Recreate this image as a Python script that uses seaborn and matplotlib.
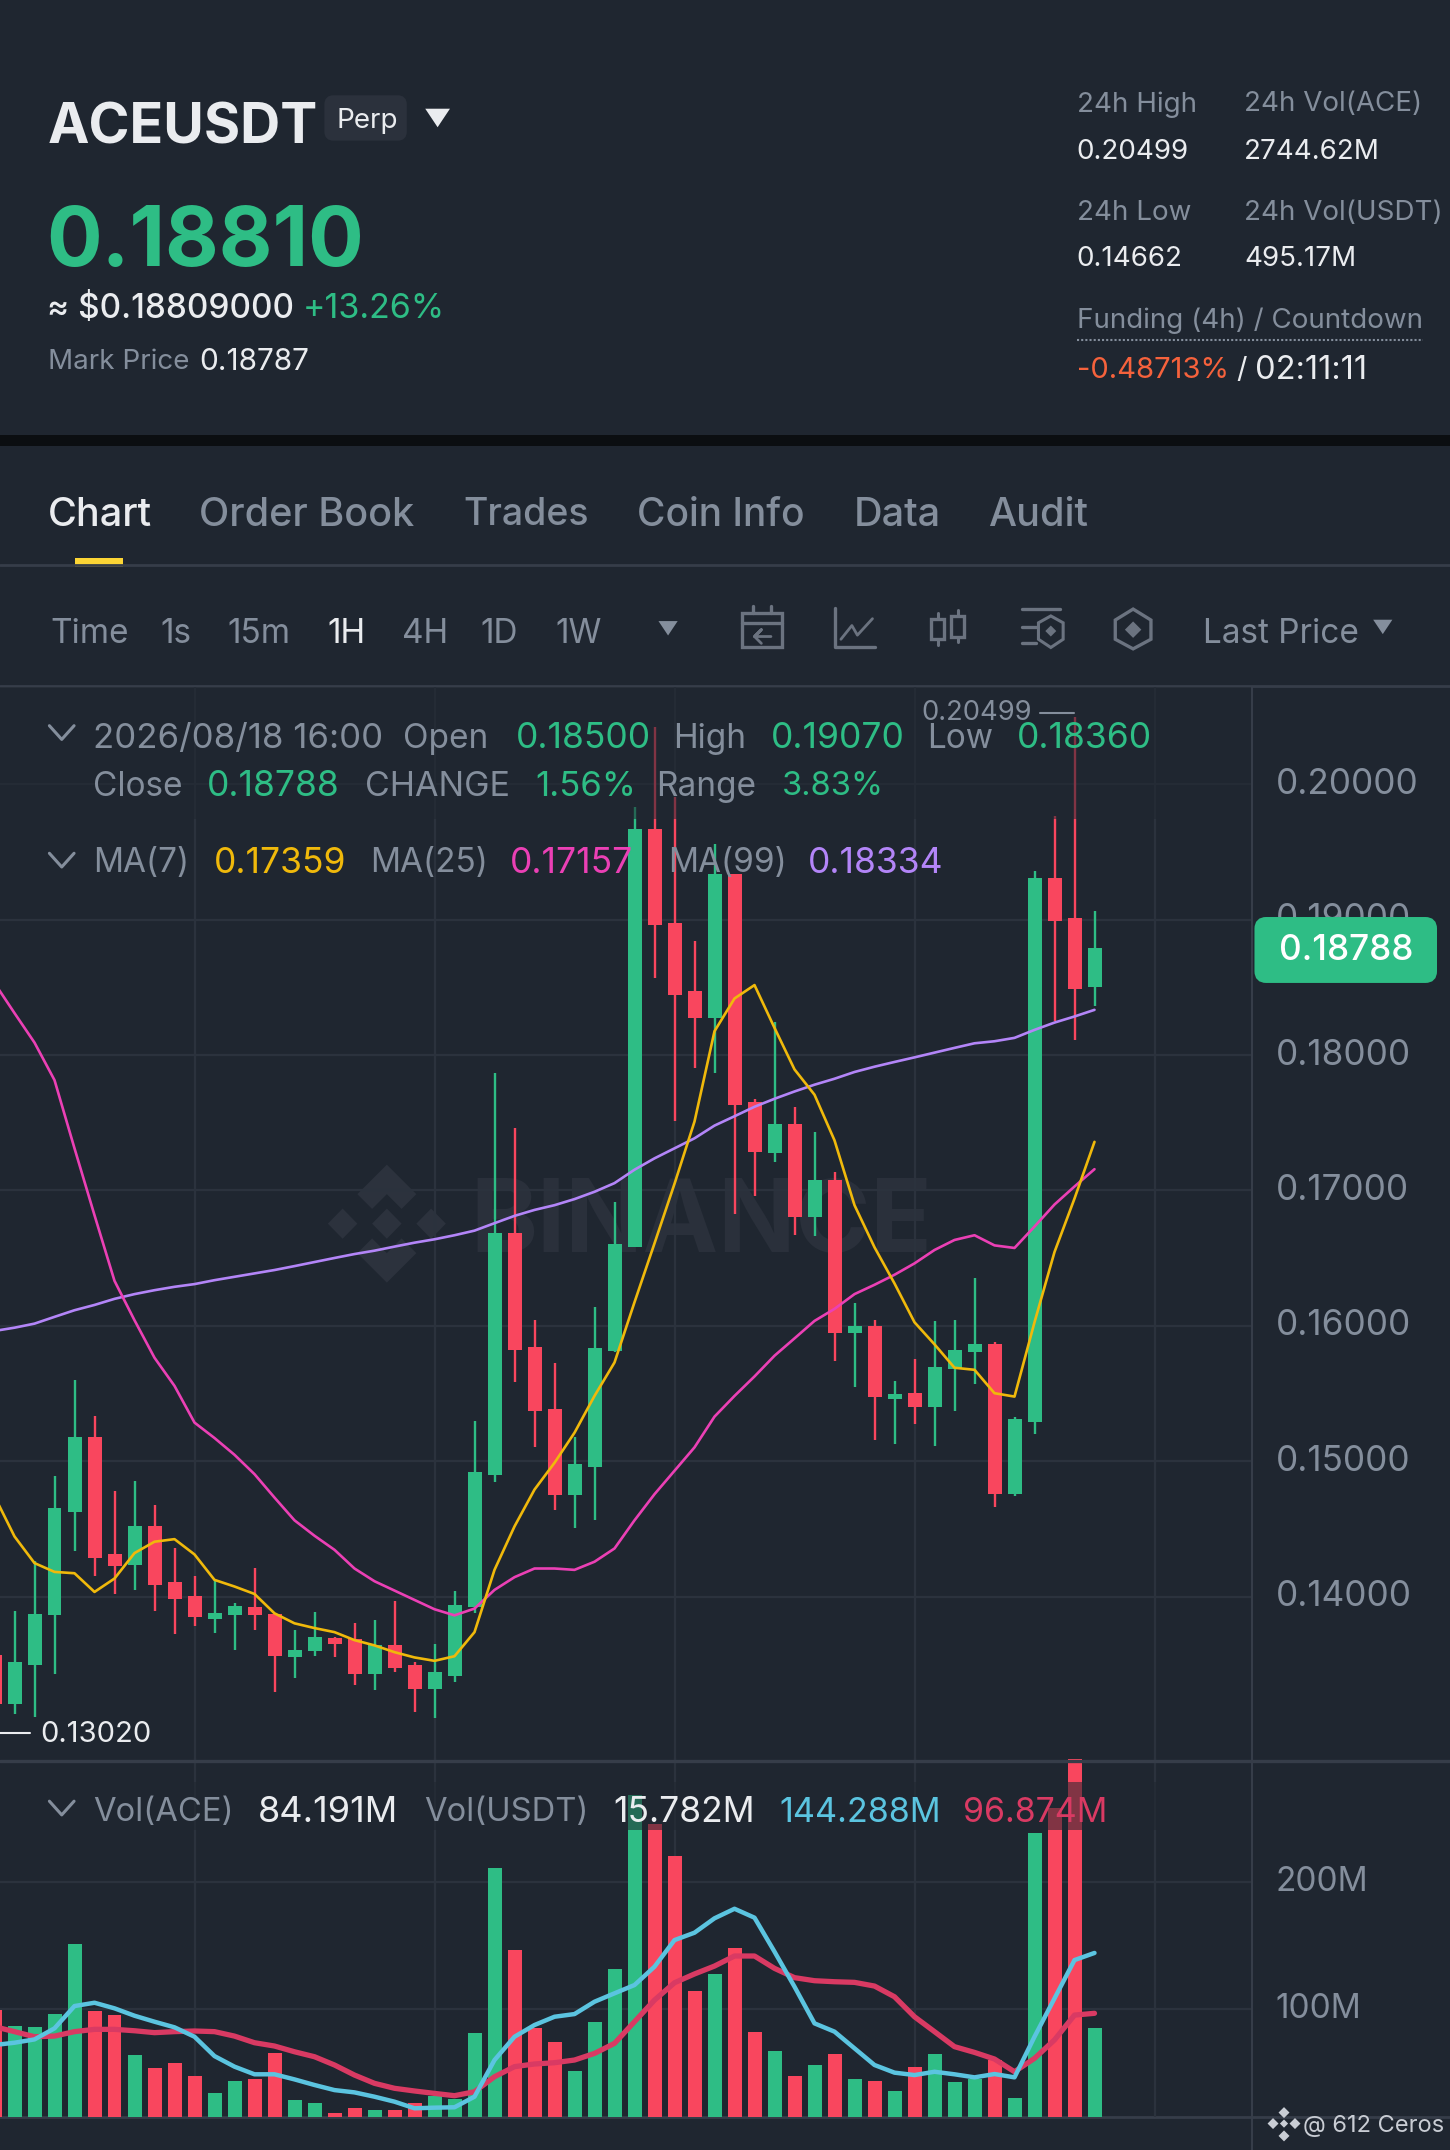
import numpy as np
import pandas as pd
import matplotlib
matplotlib.use("Agg")
import matplotlib.pyplot as plt
from matplotlib.patches import FancyBboxPatch, Rectangle, Polygon
import seaborn as sns

BG = "#1F2630"
GRID = "#2B323D"
LINE = "#363D49"
GREEN = "#2EBD85"
RED = "#F9465E"
GREY = "#848E9C"
WHITE = "#EAECEF"

# candle number, 0 is the first one fully inside the picture
candle_ids = list(range(-1, 55))

opens = [.13569, .13208, .13495, .13861, .14627, .15176, .14316, .14232, .14523, .14108, .14004, .13836, .13861, .13925,
         .13871, .13555, .13594, .13693, .13683, .13431, .13639, .13495, .13317, .13416, .13920, .14899, .16683, .15843,
         .15388, .14751, .14958, .15813, .16585, .19669, .18977, .18473, .18275, .19338, .17652, .17277, .17494, .16802,
         .17074, .15947, .15996, .15458, .15502, .15403, .15680, .15804, .15868, .14761, .15289, .19308, .19012, .18500]
closes = [.13208, .13515, .13871, .14652, .15176, .14286, .14227, .14523, .14083, .13984, .13851, .13876, .13930, .13861,
          .13559, .13604, .13698, .13653, .13431, .13639, .13475, .13317, .13441, .13940, .14919, .16683, .15823, .15374,
          .14751, .14978, .15838, .16604, .19669, .18962, .18443, .18275, .19338, .17632, .17282, .17494, .16802, .17074,
          .15947, .15996, .15477, .15497, .15403, .15695, .15823, .15863, .14761, .15309, .19308, .18992, .18488, .18788]
highs = [.13569, .13891, .14261, .14889, .15596, .15334, .14780, .14850, .14677, .14360, .14148, .14123, .13950, .14212,
         .13876, .13752, .13886, .13703, .13807, .13826, .13965, .13520, .13648, .14039, .15294, .17870, .17459, .16041,
         .15724, .15176, .16140, .16916, .19832, .20425, .19906, .18839, .19560, .19338, .17672, .18245, .17618, .17430,
         .17133, .16169, .16041, .15591, .15754, .16036, .16041, .16352, .15878, .15329, .19363, .19763, .20499, .19066]
lows = [.13149, .13130, .13110, .13431, .14335, .14148, .14019, .14049, .13891, .13723, .13782, .13728, .13604, .13752,
        .13297, .13401, .13559, .13555, .13347, .13307, .13441, .13149, .13105, .13367, .13876, .14845, .15586, .15107,
        .14642, .14508, .14563, .15804, .16585, .18567, .17514, .17904, .17865, .16827, .16960, .17207, .16669, .16664,
        .15739, .15551, .15156, .15126, .15275, .15112, .15374, .15571, .14662, .14746, .15200, .18250, .18112, .18360]

ma7 = [.14741, .14444, .14247, .14182, .14172, .14034, .14133, .14321, .14405, .14424, .14311, .14123, .14074, .14019,
       .13876, .13802, .13767, .13737, .13678, .13639, .13589, .13550, .13525, .13559, .13737, .14197, .14518, .14790,
       .14988, .15210, .15482, .15729, .16174, .16609, .17049, .17509, .18176, .18418, .18517, .18201, .17894, .17707,
       .17370, .16891, .16580, .16313, .16026, .15863, .15690, .15675, .15502, .15477, .16026, .16545, .16940, .17359]
ma25 = [.18532, .18310, .18092, .17815, .17311, .16817, .16332, .16041, .15764, .15556, .15285, .15171, .15047, .14904,
        .14731, .14563, .14449, .14345, .14207, .14113, .14044, .13975, .13906, .13861, .13911, .14049, .14143, .14207,
        .14207, .14197, .14257, .14355, .14563, .14756, .14929, .15102, .15329, .15482, .15626, .15779, .15907, .16036,
        .16125, .16234, .16303, .16377, .16461, .16560, .16634, .16669, .16594, .16575, .16733, .16896, .17029, .17157]
ma99 = [.15962, .15986, .16016, .16066, .16115, .16154, .16199, .16234, .16263, .16288, .16308, .16337, .16362, .16387,
        .16412, .16441, .16471, .16501, .16530, .16555, .16585, .16614, .16639, .16669, .16703, .16758, .16812, .16856,
        .16891, .16936, .16990, .17054, .17153, .17237, .17311, .17385, .17479, .17548, .17618, .17677, .17731, .17781,
        .17825, .17875, .17914, .17949, .17983, .18018, .18053, .18087, .18102, .18127, .18186, .18240, .18285, .18334]

# volume in millions
volumes = [99.5, 86.9, 85.9, 96.6, 151.0, 98.7, 95.5, 64.4, 54.2, 57.9, 47.4, 34.3, 43.7, 45.5, 65.7, 29.1, 26.2, 18.3,
           22.8, 20.9, 21.2, 26.7, 31.9, 29.3, 81.2, 211.0, 146.3, 85.1, 74.1, 51.8, 89.8, 131.4, 268.3, 245.5, 220.4,
           114.4, 127.5, 148.2, 81.9, 67.3, 47.6, 56.3, 64.9, 45.0, 43.7, 35.6, 54.7, 65.2, 42.7, 45.0, 60.2, 30.4,
           238.2, 257.9, 296.3, 85.1]
vol_ma_a = [72.0, 73.8, 76.4, 85.1, 102.6, 105.2, 100.8, 95.0, 90.3, 85.9, 78.5, 63.3, 55.0, 49.0, 49.0, 45.0, 40.6, 36.6,
            34.8, 31.4, 27.5, 22.3, 22.8, 23.1, 31.4, 60.2, 78.5, 87.7, 94.2, 96.3, 106.0, 112.6, 119.1, 133.5, 154.4,
            160.2, 171.5, 179.0, 172.0, 145.3, 117.8, 89.0, 82.5, 69.4, 56.3, 50.3, 48.4, 51.0, 49.0, 46.6, 49.2, 46.6,
            78.5, 108.6, 138.7, 144.3]
vol_ma_b = [86.4, 82.5, 78.5, 79.0, 82.5, 84.3, 84.3, 83.2, 81.7, 82.5, 83.0, 82.5, 79.0, 73.8, 71.2, 66.7, 62.8, 56.3,
            48.4, 41.9, 38.0, 35.9, 34.0, 32.2, 35.3, 47.1, 55.0, 57.1, 58.1, 60.2, 65.4, 73.3, 90.3, 107.3, 120.9,
            127.8, 134.0, 141.9, 141.9, 132.2, 124.9, 122.5, 121.7, 121.2, 118.3, 109.9, 94.2, 82.5, 70.7, 66.2, 61.0,
            51.0, 61.5, 76.0, 95.5, 96.9]

price_ticks = [.14, .15, .16, .17, .18, .19, .20]
vol_ticks = [100, 200]
time_ticks = [9, 21, 33, 45, 57]

df = pd.DataFrame({"id": candle_ids, "open": opens, "high": highs, "low": lows, "close": closes,
                   "ma7": ma7, "ma25": ma25, "ma99": ma99,
                   "vol": volumes, "vol_a": vol_ma_a, "vol_b": vol_ma_b})
df["side"] = np.where(df["close"] >= df["open"], "up", "down")
colors = {"up": GREEN, "down": RED}

sns.set_theme(style="dark", rc={"axes.facecolor": "none", "figure.facecolor": BG, "savefig.facecolor": BG})
plt.rcParams["font.family"] = ["Inter", "DejaVu Sans"]

W, H = 1450, 2150
fig = plt.figure(figsize=(14.5, 21.5), dpi=100)


def axes_px(left, top, right, bottom, z):
    return fig.add_axes([left / W, 1 - bottom / H, (right - left) / W, (bottom - top) / H], zorder=z)


# page layers use the units of a 1057 wide view of the screen
S = 1450 / 1057
page = fig.add_axes([0, 0, 1, 1], zorder=0)
top = fig.add_axes([0, 0, 1, 1], zorder=5)
for a in (page, top):
    a.set_xlim(0, W / S)
    a.set_ylim(H / S, 0)
    a.axis("off")

# price panel
ax = axes_px(0, 687, 1252, 1761, 2)
sns.despine(ax=ax, left=True, bottom=True, right=False, top=True)
ax.vlines(df["id"], df["low"], df["high"], colors=df["side"].map(colors), linewidth=1.7, zorder=2)
ax.bar(df["id"], (df["close"] - df["open"]).abs(), bottom=df[["open", "close"]].min(axis=1), width=0.7,
       color=df["side"].map(colors), linewidth=0, zorder=2)
sns.lineplot(data=df, x="id", y="ma99", color="#B385F8", linewidth=1.9, ax=ax, zorder=3)
sns.lineplot(data=df, x="id", y="ma25", color="#EB40B5", linewidth=1.9, ax=ax, zorder=3)
sns.lineplot(data=df, x="id", y="ma7", color="#F0B90B", linewidth=1.9, ax=ax, zorder=3)
ax.set_xlim(-0.725, 61.875)
ax.set_ylim(.12785, .20719)
ax.set_yticks(price_ticks, [f"{t:.5f}" for t in price_ticks])
ax.set_xticks(time_ticks, [])
ax.yaxis.tick_right()
ax.set_xlabel("")
ax.set_ylabel("")
ax.tick_params(axis="y", length=0, pad=17, labelsize=25.3, labelcolor=GREY)
ax.tick_params(axis="x", length=0)
ax.grid(True, color=GRID, linewidth=1.6)
ax.set_axisbelow(True)
ax.spines["right"].set_color(LINE)
ax.spines["right"].set_linewidth(1.5)

# volume panel
vx = axes_px(0, 1758, 1252, 2116.7, 2)
sns.despine(ax=vx, left=True, bottom=True, right=False, top=True)
sns.barplot(data=df, x="id", y="vol", hue="side", palette=colors, native_scale=True, dodge=False, width=0.7,
            errorbar=None, saturation=1, legend=False, linewidth=0, ax=vx, zorder=2)
sns.lineplot(data=df, x="id", y="vol_b", color="#D93A63", linewidth=3.8, ax=vx, zorder=3)
sns.lineplot(data=df, x="id", y="vol_a", color="#5BC4E0", linewidth=3.2, ax=vx, zorder=4)
vx.set_xlim(-0.725, 61.875)
vx.set_ylim(15.7, 297.4)
vx.set_yticks(vol_ticks, [f"{t}M" for t in vol_ticks])
vx.set_xticks(time_ticks, [])
vx.yaxis.tick_right()
vx.set_xlabel("")
vx.set_ylabel("")
vx.tick_params(axis="y", length=0, pad=17, labelsize=24, labelcolor=GREY)
vx.tick_params(axis="x", length=0)
vx.grid(True, color=GRID, linewidth=1.6)
vx.set_axisbelow(True)
vx.spines["right"].set_color(LINE)
vx.spines["right"].set_linewidth(1.5)
for t in ax.get_yticklabels() + vx.get_yticklabels():
    t.set_verticalalignment("center")

# bands and separators
page.add_patch(Rectangle((0, 317), 1057, 8, color="#0B0E11", lw=0))
page.plot([0, 1057], [412, 412], color=LINE, lw=2)
page.plot([0, 1057], [500, 500], color=LINE, lw=2)
page.plot([0, 1057], [1543.5, 1543.5], color=LINE, lw=2)
page.plot([913, 913], [1543, 1568], color=LINE, lw=1.5)
page.add_patch(Rectangle((55, 406.5), 35, 6.5, color="#FCD535", lw=0))
top.plot([0, 1057], [1284, 1284], color=LINE, lw=2.4)

# watermark
MARK = "#2C323D"
chev = np.array([(-.5, -.5), (0, -1), (.5, -.5), (.25, -.25), (0, -.5), (-.25, -.25)])
for sign in (1, -1):
    page.add_patch(Polygon(np.array([282, 892]) + 43 * chev * [1, sign], color=MARK, lw=0))
for dx in (-.75, 0, .75):
    page.add_patch(Polygon([(282 + 43 * (dx - .25), 892), (282 + 43 * dx, 892 - 11), (282 + 43 * (dx + .25), 892),
                            (282 + 43 * dx, 892 + 11)], color=MARK, lw=0))
page.text(343, 893, "BINANCE", color="#2A303B", fontsize=73, fontweight="bold", va="center")

# the legend strips dim what is below them
top.add_patch(Rectangle((0, 501), 912, 96, color=BG, alpha=0.55, lw=0))
top.add_patch(Rectangle((0, 1299), 912, 35, color=BG, alpha=0.55, lw=0))


def label(x, y, s, color=GREY, size=22, weight="normal", z=6):
    top.text(x, y + size * 0.1, s, color=color, fontsize=size, fontweight=weight, va="center", ha="left", zorder=z)


def chevron(x, y):
    top.plot([x - 9, x, x + 9], [y - 5, y + 5, y - 5], color=GREY, lw=2.2)


def tri(x, y, r, color):
    top.add_patch(Polygon([(x - r, y - r * .75), (x + r, y - r * .75), (x, y + r * .75)], color=color, lw=0))


# header
label(35, 90, "ACEUSDT", WHITE, 40, "bold")
top.add_patch(FancyBboxPatch((239, 72), 55, 28, boxstyle="round,pad=0,rounding_size=4", color="#2B313C", lw=5))
label(245, 86, "Perp", WHITE, 20)
tri(319, 86, 9, WHITE)
label(34, 172, "0.18810", GREEN, 59.5, "bold")
label(34, 223, "≈ $0.18809000", WHITE, 24, "medium")
label(221, 223, "+13.26%", GREEN, 24.5)
label(35, 262, "Mark Price", GREY, 20)
label(145, 262, "0.18787", WHITE, 21.5)
for x, y, s, c, sz in [(785, 74, "24h High", GREY, 20), (907, 74, "24h Vol(ACE)", GREY, 20), (785, 109, "0.20499", WHITE, 20),
                       (907, 109, "2744.62M", WHITE, 20), (785, 153, "24h Low", GREY, 20), (907, 153, "24h Vol(USDT)", GREY, 20),
                       (785, 187, "0.14662", WHITE, 20), (907, 187, "495.17M", WHITE, 20),
                       (785, 232, "Funding (4h) / Countdown", GREY, 20), (785, 268, "-0.48713%", "#F6623C", 21),
                       (901, 268, "/", WHITE, 21), (915, 268, "02:11:11", WHITE, 23.5)]:
    label(x, y, s, c, sz)
top.plot([785, 1037], [248, 248], color=GREY, lw=1.5, ls=(0, (1, 1)))

# tabs
for x, s, c, sz in [(35, "Chart", WHITE, 28.5), (145, "Order Book", GREY, 28.5), (338, "Trades", GREY, 27),
                    (464, "Coin Info", GREY, 28), (622, "Data", GREY, 28.5), (720, "Audit", GREY, 28.5)]:
    label(x, 373, s, c, sz, "medium")

# interval row
for x, s, c in [(36.5, "Time", GREY), (117, "1s", GREY), (166, "15m", GREY), (239, "1H", WHITE), (293, "4H", GREY),
                (350, "1D", GREY), (405, "1W", GREY), (877, "Last Price", GREY)]:
    label(x, 460, s, c, 24)
tri(487, 458, 7, GREY)
tri(1008, 457, 7, GREY)
ICON = "#6B7380"
top.add_patch(Rectangle((541, 447), 29, 25, fill=False, ec=ICON, lw=2.4))
top.plot([541, 570], [454, 454], color=ICON, lw=2.4)
top.plot([549, 549], [442, 447], color=ICON, lw=2.4)
top.plot([562, 562], [442, 447], color=ICON, lw=2.4)
top.plot([562, 550, 555, 550, 555], [464, 464, 459, 464, 469], color=ICON, lw=2)
top.plot([609, 609, 638], [443, 472, 472], color=ICON, lw=2.4)
top.plot([613, 621, 625, 636], [466, 456, 463, 451], color=ICON, lw=2)
for cx, y0, y1, w0, w1 in [(683.5, 451, 466, 447, 470), (698, 449, 464, 445, 468)]:
    top.add_patch(Rectangle((cx - 4.5, y0), 9, y1 - y0, fill=False, ec=ICON, lw=2.4))
    top.plot([cx, cx], [w0, y0], color=ICON, lw=2.2)
    top.plot([cx, cx], [y1, w1], color=ICON, lw=2.2)
top.plot([745, 773], [444, 444], color=ICON, lw=2.4)
top.plot([745, 755], [457, 457], color=ICON, lw=2.4)
top.plot([745, 755], [469, 469], color=ICON, lw=2.4)
top.add_patch(Polygon([(766, 449), (775, 454), (775, 466), (766, 472), (757, 466), (757, 454)], fill=False, ec=ICON, lw=2.2))
top.add_patch(Polygon([(766, 456), (770, 460), (766, 464), (762, 460)], color=ICON, lw=0))
top.add_patch(Polygon([(826, 444), (839, 452), (839, 466), (826, 473), (813, 466), (813, 452)], fill=False, ec=ICON, lw=2.4))
top.add_patch(Polygon([(826, 453), (832, 459), (826, 465), (820, 459)], color=ICON, lw=0))

# candle legend, the digits of the original run wider than its words
LABEL_SIZE = 24
NUM_SIZE = 25.5
chevron(45, 534)
for x, s, c, sz in [(68, "2026/08/18 16:00", GREY, 25), (294, "Open", GREY, LABEL_SIZE), (376, "0.18500", GREEN, NUM_SIZE),
                    (491, "High", GREY, LABEL_SIZE), (562, "0.19070", GREEN, NUM_SIZE), (676, "Low", GREY, LABEL_SIZE),
                    (741, "0.18360", GREEN, NUM_SIZE)]:
    label(x, 536, s, c, sz)
for x, s, c, sz in [(68, "Close", GREY, LABEL_SIZE), (151, "0.18788", GREEN, NUM_SIZE), (266, "CHANGE", GREY, 24.5),
                    (390, "1.56%", GREEN, 25), (478, "Range", GREY, LABEL_SIZE), (570, "3.83%", GREEN, 23.5)]:
    label(x, 571, s, c, sz)
chevron(45, 627)
for x, s, c, sz in [(68, "MA(7)", GREY, LABEL_SIZE), (156, "0.17359", "#F0B90B", NUM_SIZE), (270, "MA(25)", GREY, LABEL_SIZE),
                    (372, "0.17157", "#EB40B5", NUM_SIZE), (487, "MA(99)", GREY, LABEL_SIZE), (589, "0.18334", "#B385F8", NUM_SIZE)]:
    label(x, 627, s, c, sz)

# high and low markers
label(672, 518, "0.20499", GREY, 19.7)
top.plot([758, 783], [520, 520], color=GREY, lw=1.5)
top.plot([0, 22], [1263, 1263], color=WHITE, lw=1.5)
label(29, 1262, "0.13020", WHITE, 21)

# last price badge
top.add_patch(FancyBboxPatch((917, 671), 128, 43, boxstyle="round,pad=0,rounding_size=6", color=GREEN, lw=5))
top.text(981, 693, "0.18788", color="white", fontsize=25.3, fontweight="medium", ha="center", va="center", zorder=6)

# volume legend
chevron(45, 1318)
for x, s, c, sz in [(68, "Vol(ACE)", GREY, 23.6), (188, "84.191M", WHITE, 26), (309, "Vol(USDT)", GREY, 23.6),
                    (447, "15.782M", WHITE, NUM_SIZE), (568, "144.288M", "#5BC4E0", 24.6), (702, "96.874M", "#D93A63", 24.4)]:
    label(x, 1319, s, c, sz)

# credit in the corner
for cx, cy, r in [(936, 1540, 4), (936, 1557, 4), (928, 1548, 4), (944, 1548, 4), (936, 1548, 3)]:
    top.add_patch(Polygon([(cx - r, cy), (cx, cy - r), (cx + r, cy), (cx, cy + r)], color="#C9CDD4", lw=0))
label(950, 1548, "@ 612 Ceros", "#C9CDD4", 17)

fig.savefig("out.png", dpi=100)
